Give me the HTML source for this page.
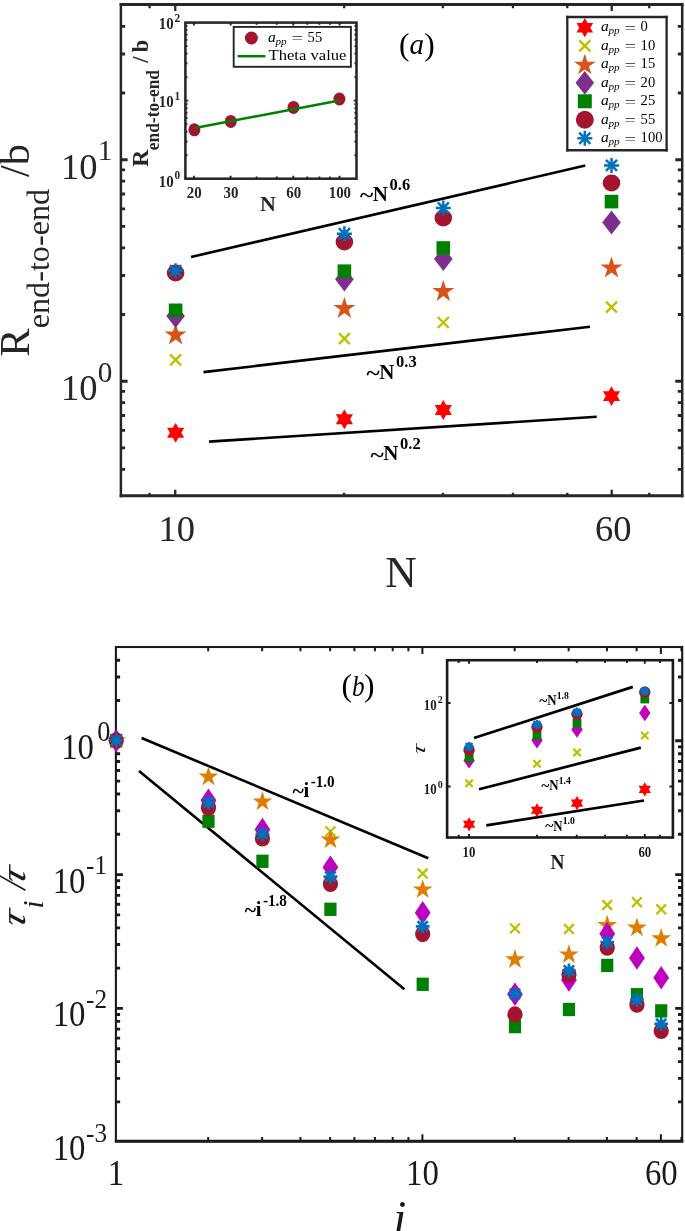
<!DOCTYPE html>
<html lang="en"><head><meta charset="utf-8"><title>Figure</title>
<style>html,body{margin:0;padding:0;background:#fff}svg{display:block}text{font-family:'Liberation Serif', serif;}</style></head><body>
<svg width="685" height="1231" viewBox="0 0 685 1231">
<rect width="685" height="1231" fill="#fff"/>
<g id="panel-a">
<path d="M149.59 495.7v-2.9M149.59 4.2v4.0M344.1 495.7v-2.9M344.1 4.2v4.0M442.87 495.7v-2.9M442.87 4.2v4.0M512.95 495.7v-2.9M512.95 4.2v4.0M567.31 495.7v-2.9M567.31 4.2v4.0M649.27 495.7v-2.9M649.27 4.2v4.0M175.26 495.7v-5.9M175.26 4.2v6.8M611.72 495.7v-5.9M611.72 4.2v6.8" stroke="#262626" stroke-width="2.3" fill="none"/>
<path d="M120.9 469.34h4.2M682 469.34h-4.2M120.9 447.88h4.2M682 447.88h-4.2M120.9 430.34h4.2M682 430.34h-4.2M120.9 415.51h4.2M682 415.51h-4.2M120.9 402.67h4.2M682 402.67h-4.2M120.9 391.34h4.2M682 391.34h-4.2M120.9 314.52h4.2M682 314.52h-4.2M120.9 275.52h4.2M682 275.52h-4.2M120.9 247.84h4.2M682 247.84h-4.2M120.9 226.38h4.2M682 226.38h-4.2M120.9 208.84h4.2M682 208.84h-4.2M120.9 194.01h4.2M682 194.01h-4.2M120.9 181.17h4.2M682 181.17h-4.2M120.9 169.84h4.2M682 169.84h-4.2M120.9 93.02h4.2M682 93.02h-4.2M120.9 54.02h4.2M682 54.02h-4.2M120.9 26.34h4.2M682 26.34h-4.2M120.9 381.2h6.7M682 381.2h-6.7M120.9 159.7h6.7M682 159.7h-6.7" stroke="#262626" stroke-width="2.9" fill="none"/>
<path d="M120.9 2.98V497.18M682.2 2.98V497.18" stroke="#262626" stroke-width="2.5" fill="none"/><path d="M119.65 4.45H683.45M119.65 495.7H683.45" stroke="#262626" stroke-width="2.95" fill="none"/>
<path d="M191 257L585.3 165.6M203.5 372.1L590 326.8M209 441.6L596.7 416.8" stroke="#000" stroke-width="2.6" fill="none"/>
<polygon points="175.6,422.9 178.46,427.85 184.17,427.85 181.32,432.8 184.17,437.75 178.46,437.75 175.6,442.7 172.74,437.75 167.03,437.75 169.88,432.8 167.03,427.85 172.74,427.85" fill="#ff0000"/>
<polygon points="344.4,409.4 347.26,414.35 352.97,414.35 350.12,419.3 352.97,424.25 347.26,424.25 344.4,429.2 341.54,424.25 335.83,424.25 338.68,419.3 335.83,414.35 341.54,414.35" fill="#ff0000"/>
<polygon points="443.3,400.1 446.16,405.05 451.87,405.05 449.02,410 451.87,414.95 446.16,414.95 443.3,419.9 440.44,414.95 434.73,414.95 437.58,410 434.73,405.05 440.44,405.05" fill="#ff0000"/>
<polygon points="611.5,386.2 614.36,391.15 620.07,391.15 617.22,396.1 620.07,401.05 614.36,401.05 611.5,406 608.64,401.05 602.93,401.05 605.78,396.1 602.93,391.15 608.64,391.15" fill="#ff0000"/>
<path d="M170.1 354.4L181.1 365.4M170.1 365.4L181.1 354.4" stroke="#bfbf00" stroke-width="2.4" fill="none"/>
<path d="M338.9 333.2L349.9 344.2M338.9 344.2L349.9 333.2" stroke="#bfbf00" stroke-width="2.4" fill="none"/>
<path d="M437.8 317L448.8 328M437.8 328L448.8 317" stroke="#bfbf00" stroke-width="2.4" fill="none"/>
<path d="M606 301.7L617 312.7M606 312.7L617 301.7" stroke="#bfbf00" stroke-width="2.4" fill="none"/>
<polygon points="175.6,323.4 178.2,331.42 186.63,331.42 179.81,336.37 182.42,344.38 175.6,339.43 168.78,344.38 171.39,336.37 164.57,331.42 173,331.42" fill="#d95319"/>
<polygon points="344.4,296.9 347,304.92 355.43,304.92 348.61,309.87 351.22,317.88 344.4,312.93 337.58,317.88 340.19,309.87 333.37,304.92 341.8,304.92" fill="#d95319"/>
<polygon points="443.3,279.9 445.9,287.92 454.33,287.92 447.51,292.87 450.12,300.88 443.3,295.93 436.48,300.88 439.09,292.87 432.27,287.92 440.7,287.92" fill="#d95319"/>
<polygon points="611.5,256.4 614.1,264.42 622.53,264.42 615.71,269.37 618.32,277.38 611.5,272.43 604.68,277.38 607.29,269.37 600.47,264.42 608.9,264.42" fill="#d95319"/>
<polygon points="175.6,303.9 184.9,316 175.6,328.1 166.3,316" fill="#7e2f8e"/>
<polygon points="344.4,267.2 353.7,279.3 344.4,291.4 335.1,279.3" fill="#7e2f8e"/>
<polygon points="443.3,246.9 452.6,259 443.3,271.1 434,259" fill="#7e2f8e"/>
<polygon points="611.5,210.4 620.8,222.5 611.5,234.6 602.2,222.5" fill="#7e2f8e"/>
<rect x="168.8" y="303.5" width="13.6" height="13.6" fill="#008000"/>
<rect x="337.6" y="264.4" width="13.6" height="13.6" fill="#008000"/>
<rect x="436.5" y="241.2" width="13.6" height="13.6" fill="#008000"/>
<rect x="604.7" y="194.8" width="13.6" height="13.6" fill="#008000"/>
<ellipse cx="175.6" cy="273" rx="8.8" ry="8.5" fill="#a2142f"/>
<ellipse cx="344.4" cy="242" rx="8.8" ry="8.5" fill="#a2142f"/>
<ellipse cx="443.3" cy="218" rx="8.8" ry="8.5" fill="#a2142f"/>
<ellipse cx="611.5" cy="183" rx="8.8" ry="8.5" fill="#a2142f"/>
<path d="M175.6 263.2V278.2M168.1 270.7H183.1M170.05 265.15L181.15 276.25M170.05 276.25L181.15 265.15" stroke="#0072bd" stroke-width="2.5" fill="none"/>
<path d="M344.4 226.2V241.2M336.9 233.7H351.9M338.85 228.15L349.95 239.25M338.85 239.25L349.95 228.15" stroke="#0072bd" stroke-width="2.5" fill="none"/>
<path d="M443.3 200.5V215.5M435.8 208H450.8M437.75 202.45L448.85 213.55M437.75 213.55L448.85 202.45" stroke="#0072bd" stroke-width="2.5" fill="none"/>
<path d="M611.5 157.9V172.9M604 165.4H619M605.95 159.85L617.05 170.95M605.95 170.95L617.05 159.85" stroke="#0072bd" stroke-width="2.5" fill="none"/>
<text x="97.4" y="178.8" font-size="36.5" text-anchor="end" fill="#262626" font-weight="normal">10</text><text x="97.8" y="160.4" font-size="29.2" fill="#262626" font-weight="normal">1</text>
<text x="97.4" y="400" font-size="36.5" text-anchor="end" fill="#262626" font-weight="normal">10</text><text x="97.8" y="381.6" font-size="29.2" fill="#262626" font-weight="normal">0</text>
<text x="176.8" y="541" font-size="36.5" text-anchor="middle" fill="#262626">10</text>
<text x="613.2" y="541" font-size="36.5" text-anchor="middle" fill="#262626">60</text>
<text x="400.9" y="587.4" font-size="43.5" text-anchor="middle" fill="#262626">N</text>
<g transform="translate(28.8,356.7) rotate(-90)" fill="#262626">
<text x="0" y="0" font-size="42.5">R</text>
<text x="28.4" y="20.2" font-size="32.2">end-to-end</text>
<text x="179.6" y="0" font-size="42.5">/b</text>
</g>
<text x="398.9" y="54.5" font-size="31.5" fill="#000">(</text>
<text x="409.6" y="53.9" font-size="29" font-style="italic" fill="#000">a</text>
<text x="424.2" y="54.5" font-size="31.5" fill="#000">)</text>
<text x="360.1" y="202.4" font-size="21" font-weight="bold" fill="#000" textLength="13.2" lengthAdjust="spacingAndGlyphs">~</text><text x="372.8" y="201.2" font-size="21" font-weight="bold" fill="#000">N</text><text x="389.56" y="189.7" font-size="16.5" font-weight="bold" fill="#000">0.6</text>
<text x="366.6" y="379.7" font-size="21" font-weight="bold" fill="#000" textLength="13.2" lengthAdjust="spacingAndGlyphs">~</text><text x="379.3" y="378.5" font-size="21" font-weight="bold" fill="#000">N</text><text x="396.06" y="367" font-size="16.5" font-weight="bold" fill="#000">0.3</text>
<text x="370.6" y="461.5" font-size="21" font-weight="bold" fill="#000" textLength="13.2" lengthAdjust="spacingAndGlyphs">~</text><text x="383.3" y="460.3" font-size="21" font-weight="bold" fill="#000">N</text><text x="400.06" y="448.8" font-size="16.5" font-weight="bold" fill="#000">0.2</text>
<rect x="567.3" y="17" width="99.3" height="133.3" fill="#fff"/><path d="M567.3 15.7V151.6M666.6 15.7V151.6" stroke="#262626" stroke-width="2.3" fill="none"/><path d="M566.15 17H667.75M566.15 150.3H667.75" stroke="#262626" stroke-width="2.6" fill="none"/>
<polygon points="584.8,18.1 587.57,22.9 593.11,22.9 590.34,27.7 593.11,32.5 587.57,32.5 584.8,37.3 582.03,32.5 576.49,32.5 579.26,27.7 576.49,22.9 582.03,22.9" fill="#ff0000"/>
<path d="M579.3 40.37L590.3 51.37M579.3 51.37L590.3 40.37" stroke="#bfbf00" stroke-width="2.4" fill="none"/>
<polygon points="584.8,53.84 587.34,61.65 595.55,61.65 588.91,66.47 591.44,74.28 584.8,69.46 578.16,74.28 580.69,66.47 574.05,61.65 582.26,61.65" fill="#d95319"/>
<polygon points="584.8,70.91 594.1,82.81 584.8,94.71 575.5,82.81" fill="#7e2f8e"/>
<rect x="577.8" y="94.28" width="14" height="14" fill="#008000"/>
<circle cx="584.8" cy="119.75" r="9" fill="#a2142f"/>
<path d="M584.8 130.72V145.72M577.3 138.22H592.3M579.25 132.67L590.35 143.77M579.25 143.77L590.35 132.67" stroke="#0072bd" stroke-width="2.5" fill="none"/>
<text x="601" y="31.4" font-size="15.6" font-style="italic" fill="#000">a</text><text x="608.4" y="34.4" font-size="11.2" font-style="italic" fill="#000">pp</text><text transform="translate(624.4,32.7) scale(1.36,1)" font-size="15" fill="#222">=</text><text x="640.6" y="31.2" font-size="14.6" fill="#000">0</text>
<text x="601" y="49.87" font-size="15.6" font-style="italic" fill="#000">a</text><text x="608.4" y="52.87" font-size="11.2" font-style="italic" fill="#000">pp</text><text transform="translate(624.4,51.17) scale(1.36,1)" font-size="15" fill="#222">=</text><text x="640.6" y="49.67" font-size="14.6" fill="#000">10</text>
<text x="601" y="68.34" font-size="15.6" font-style="italic" fill="#000">a</text><text x="608.4" y="71.34" font-size="11.2" font-style="italic" fill="#000">pp</text><text transform="translate(624.4,69.64) scale(1.36,1)" font-size="15" fill="#222">=</text><text x="640.6" y="68.14" font-size="14.6" fill="#000">15</text>
<text x="601" y="86.81" font-size="15.6" font-style="italic" fill="#000">a</text><text x="608.4" y="89.81" font-size="11.2" font-style="italic" fill="#000">pp</text><text transform="translate(624.4,88.11) scale(1.36,1)" font-size="15" fill="#222">=</text><text x="640.6" y="86.61" font-size="14.6" fill="#000">20</text>
<text x="601" y="105.28" font-size="15.6" font-style="italic" fill="#000">a</text><text x="608.4" y="108.28" font-size="11.2" font-style="italic" fill="#000">pp</text><text transform="translate(624.4,106.58) scale(1.36,1)" font-size="15" fill="#222">=</text><text x="640.6" y="105.08" font-size="14.6" fill="#000">25</text>
<text x="601" y="123.75" font-size="15.6" font-style="italic" fill="#000">a</text><text x="608.4" y="126.75" font-size="11.2" font-style="italic" fill="#000">pp</text><text transform="translate(624.4,125.05) scale(1.36,1)" font-size="15" fill="#222">=</text><text x="640.6" y="123.55" font-size="14.6" fill="#000">55</text>
<text x="601" y="142.22" font-size="15.6" font-style="italic" fill="#000">a</text><text x="608.4" y="145.22" font-size="11.2" font-style="italic" fill="#000">pp</text><text transform="translate(624.4,143.52) scale(1.36,1)" font-size="15" fill="#222">=</text><text x="640.6" y="142.02" font-size="14.6" fill="#000">100</text>
<rect x="185.4" y="22.6" width="171.1" height="156.1" fill="#fff" stroke="#262626" stroke-width="2.55"/>
<path d="M193.9 178.7v-2.9M193.9 22.6v2.9M230.6 178.7v-2.9M230.6 22.6v2.9M256.63 178.7v-2.1M256.63 22.6v2.1M276.83 178.7v-2.1M276.83 22.6v2.1M293.33 178.7v-2.9M293.33 22.6v2.9M307.28 178.7v-2.1M307.28 22.6v2.1M319.37 178.7v-2.1M319.37 22.6v2.1M330.03 178.7v-2.1M330.03 22.6v2.1M339.57 178.7v-2.9M339.57 22.6v2.9M185.4 155.2h2.1M356.5 155.2h-2.1M185.4 141.46h2.1M356.5 141.46h-2.1M185.4 131.71h2.1M356.5 131.71h-2.1M185.4 124.15h2.1M356.5 124.15h-2.1M185.4 117.97h2.1M356.5 117.97h-2.1M185.4 112.74h2.1M356.5 112.74h-2.1M185.4 108.21h2.1M356.5 108.21h-2.1M185.4 104.22h2.1M356.5 104.22h-2.1M185.4 77.15h2.1M356.5 77.15h-2.1M185.4 63.41h2.1M356.5 63.41h-2.1M185.4 53.66h2.1M356.5 53.66h-2.1M185.4 46.1h2.1M356.5 46.1h-2.1M185.4 39.92h2.1M356.5 39.92h-2.1M185.4 34.69h2.1M356.5 34.69h-2.1M185.4 30.16h2.1M356.5 30.16h-2.1M185.4 26.17h2.1M356.5 26.17h-2.1M185.4 100.65h2.9M356.5 100.65h-2.9" stroke="#262626" stroke-width="1.9" fill="none"/>
<ellipse cx="194.4" cy="129.8" rx="6" ry="6.5" fill="#a2142f"/>
<ellipse cx="230.8" cy="121.4" rx="6" ry="6.5" fill="#a2142f"/>
<ellipse cx="293.5" cy="107.4" rx="6" ry="6.5" fill="#a2142f"/>
<ellipse cx="339.4" cy="99" rx="6" ry="6.5" fill="#a2142f"/>
<path d="M195 128L339.4 100.4" stroke="#008000" stroke-width="2.5" fill="none"/>
<rect x="233.7" y="26.9" width="117.2" height="39.9" fill="#fff" stroke="#262626" stroke-width="1.9"/>
<circle cx="251.4" cy="38" r="6.5" fill="#a2142f"/>
<path d="M237.6 56.2H265.4" stroke="#008000" stroke-width="2.5"/>
<text x="268" y="41.8" font-size="15.6" font-style="italic" fill="#000">a</text><text x="275.4" y="44.8" font-size="11.2" font-style="italic" fill="#000">pp</text><text transform="translate(291.4,43.1) scale(1.36,1)" font-size="15" fill="#222">=</text><text x="307.6" y="41.6" font-size="14.6" fill="#000">55</text>
<text x="268.6" y="60.3" font-size="14.6" fill="#000" textLength="77.8" lengthAdjust="spacingAndGlyphs">Theta value</text>
<g transform="translate(173.7,0) scale(0.92,1) translate(-173.7,0)"><text x="173.7" y="29.2" font-size="16.2" text-anchor="end" fill="#262626" font-weight="bold">10</text><text x="174.6" y="21.9" font-size="12.4" fill="#262626" font-weight="bold">2</text></g>
<g transform="translate(173.7,0) scale(0.92,1) translate(-173.7,0)"><text x="173.7" y="107.5" font-size="16.2" text-anchor="end" fill="#262626" font-weight="bold">10</text><text x="174.6" y="100.2" font-size="12.4" fill="#262626" font-weight="bold">1</text></g>
<g transform="translate(173.7,0) scale(0.92,1) translate(-173.7,0)"><text x="173.7" y="186.6" font-size="16.2" text-anchor="end" fill="#262626" font-weight="bold">10</text><text x="174.6" y="179.3" font-size="12.4" fill="#262626" font-weight="bold">0</text></g>
<text transform="translate(194.2,198.3) scale(0.92,1)" font-size="16.2" font-weight="bold" text-anchor="middle" fill="#262626">20</text>
<text transform="translate(230.9,198.3) scale(0.92,1)" font-size="16.2" font-weight="bold" text-anchor="middle" fill="#262626">30</text>
<text transform="translate(293.63,198.3) scale(0.92,1)" font-size="16.2" font-weight="bold" text-anchor="middle" fill="#262626">60</text>
<text transform="translate(339.87,198.3) scale(0.92,1)" font-size="16.2" font-weight="bold" text-anchor="middle" fill="#262626">100</text>
<text x="268" y="210.7" font-size="22" font-weight="bold" text-anchor="middle" fill="#262626">N</text>
<g transform="translate(148,166.8) rotate(-90)" fill="#262626" font-weight="bold">
<text x="0" y="0" font-size="23.5">R</text>
<text transform="translate(16.6,10.9) scale(1,1.12)" font-size="17.4">end-to-end</text>
<text x="104" y="0" font-size="22.5">/</text>
<text x="114.6" y="0" font-size="22.5">b</text>
</g>
</g>
<g id="panel-b">
<path d="M208.17 1141.2v-4.2M208.17 647v4.2M262.14 1141.2v-4.2M262.14 647v4.2M300.43 1141.2v-4.2M300.43 647v4.2M330.13 1141.2v-4.2M330.13 647v4.2M354.4 1141.2v-4.2M354.4 647v4.2M374.92 1141.2v-4.2M374.92 647v4.2M392.7 1141.2v-4.2M392.7 647v4.2M408.38 1141.2v-4.2M408.38 647v4.2M514.67 1141.2v-4.2M514.67 647v4.2M568.64 1141.2v-4.2M568.64 647v4.2M606.93 1141.2v-4.2M606.93 647v4.2M636.63 1141.2v-4.2M636.63 647v4.2M681.42 1141.2v-4.2M681.42 647v4.2M422.4 1141.2v-7M422.4 647v7M660.9 1141.2v-7M660.9 647v7" stroke="#1a1a1a" stroke-width="2" fill="none"/>
<path d="M115.9 1101.92h4.2M682.2 1101.92h-4.2M115.9 1078.36h4.2M682.2 1078.36h-4.2M115.9 1061.64h4.2M682.2 1061.64h-4.2M115.9 1048.68h4.2M682.2 1048.68h-4.2M115.9 1038.08h4.2M682.2 1038.08h-4.2M115.9 1029.13h4.2M682.2 1029.13h-4.2M115.9 1021.37h4.2M682.2 1021.37h-4.2M115.9 1014.52h4.2M682.2 1014.52h-4.2M115.9 968.12h4.2M682.2 968.12h-4.2M115.9 944.56h4.2M682.2 944.56h-4.2M115.9 927.84h4.2M682.2 927.84h-4.2M115.9 914.88h4.2M682.2 914.88h-4.2M115.9 904.28h4.2M682.2 904.28h-4.2M115.9 895.33h4.2M682.2 895.33h-4.2M115.9 887.57h4.2M682.2 887.57h-4.2M115.9 880.72h4.2M682.2 880.72h-4.2M115.9 834.32h4.2M682.2 834.32h-4.2M115.9 810.76h4.2M682.2 810.76h-4.2M115.9 794.04h4.2M682.2 794.04h-4.2M115.9 781.08h4.2M682.2 781.08h-4.2M115.9 770.48h4.2M682.2 770.48h-4.2M115.9 761.53h4.2M682.2 761.53h-4.2M115.9 753.77h4.2M682.2 753.77h-4.2M115.9 746.92h4.2M682.2 746.92h-4.2M115.9 700.52h4.2M682.2 700.52h-4.2M115.9 676.96h4.2M682.2 676.96h-4.2M115.9 660.24h4.2M682.2 660.24h-4.2M115.9 1008.4h7M682.2 1008.4h-7M115.9 874.6h7M682.2 874.6h-7M115.9 740.8h7M682.2 740.8h-7" stroke="#1a1a1a" stroke-width="2.9" fill="none"/>
<rect x="115.9" y="647" width="566.3" height="494.2" fill="none" stroke="#1a1a1a" stroke-width="2.1"/>
<path d="M114.85 1141.3H683.25" stroke="#1a1a1a" stroke-width="3.1" fill="none"/>
<path d="M141.6 738L428.3 858.2M139 771L404.4 989.3" stroke="#000" stroke-width="2.6" fill="none"/>
<path d="M111.3 735.6L121.1 745.4M111.3 745.4L121.1 735.6" stroke="#bfbf00" stroke-width="2.3" fill="none"/>
<path d="M325.53 826.5L335.33 836.3M325.53 836.3L335.33 826.5" stroke="#bfbf00" stroke-width="2.3" fill="none"/>
<path d="M417.8 868.6L427.6 878.4M417.8 878.4L427.6 868.6" stroke="#bfbf00" stroke-width="2.3" fill="none"/>
<path d="M510.07 923.5L519.87 933.3M510.07 933.3L519.87 923.5" stroke="#bfbf00" stroke-width="2.3" fill="none"/>
<path d="M564.04 924.1L573.84 933.9M564.04 933.9L573.84 924.1" stroke="#bfbf00" stroke-width="2.3" fill="none"/>
<path d="M602.33 900.1L612.13 909.9M602.33 909.9L612.13 900.1" stroke="#bfbf00" stroke-width="2.3" fill="none"/>
<path d="M632.03 897.3L641.83 907.1M632.03 907.1L641.83 897.3" stroke="#bfbf00" stroke-width="2.3" fill="none"/>
<path d="M656.3 904.4L666.1 914.2M656.3 914.2L666.1 904.4" stroke="#bfbf00" stroke-width="2.3" fill="none"/>
<polygon points="116.2,730.1 118.54,737.29 126.09,737.29 119.98,741.73 122.31,748.91 116.2,744.47 110.09,748.91 112.42,741.73 106.31,737.29 113.86,737.29" fill="#de7d00"/>
<polygon points="208.47,766.4 210.8,773.59 218.36,773.59 212.24,778.03 214.58,785.21 208.47,780.77 202.35,785.21 204.69,778.03 198.57,773.59 206.13,773.59" fill="#de7d00"/>
<polygon points="262.44,791.3 264.77,798.49 272.33,798.49 266.22,802.93 268.55,810.11 262.44,805.67 256.32,810.11 258.66,802.93 252.55,798.49 260.1,798.49" fill="#de7d00"/>
<polygon points="330.43,829.4 332.77,836.59 340.33,836.59 334.21,841.03 336.55,848.21 330.43,843.77 324.32,848.21 326.66,841.03 320.54,836.59 328.1,836.59" fill="#de7d00"/>
<polygon points="422.7,879.2 425.04,886.39 432.59,886.39 426.48,890.83 428.81,898.01 422.7,893.57 416.59,898.01 418.92,890.83 412.81,886.39 420.36,886.39" fill="#de7d00"/>
<polygon points="514.97,949.1 517.3,956.29 524.86,956.29 518.74,960.73 521.08,967.91 514.97,963.47 508.85,967.91 511.19,960.73 505.07,956.29 512.63,956.29" fill="#de7d00"/>
<polygon points="568.94,944.2 571.27,951.39 578.83,951.39 572.72,955.83 575.05,963.01 568.94,958.57 562.82,963.01 565.16,955.83 559.05,951.39 566.6,951.39" fill="#de7d00"/>
<polygon points="607.23,914.8 609.57,921.99 617.12,921.99 611.01,926.43 613.34,933.61 607.23,929.17 601.12,933.61 603.45,926.43 597.34,921.99 604.9,921.99" fill="#de7d00"/>
<polygon points="636.93,917.4 639.27,924.59 646.83,924.59 640.71,929.03 643.05,936.21 636.93,931.77 630.82,936.21 633.16,929.03 627.04,924.59 634.6,924.59" fill="#de7d00"/>
<polygon points="661.2,928 663.54,935.19 671.09,935.19 664.98,939.63 667.32,946.81 661.2,942.37 655.09,946.81 657.43,939.63 651.31,935.19 658.87,935.19" fill="#de7d00"/>
<polygon points="116.2,729 124.1,740.8 116.2,752.6 108.3,740.8" fill="#bf00bf"/>
<polygon points="208.47,788.5 216.37,800.3 208.47,812.1 200.57,800.3" fill="#bf00bf"/>
<polygon points="262.44,817.8 270.34,829.6 262.44,841.4 254.54,829.6" fill="#bf00bf"/>
<polygon points="330.43,855.5 338.33,867.3 330.43,879.1 322.53,867.3" fill="#bf00bf"/>
<polygon points="422.7,901 430.6,912.8 422.7,924.6 414.8,912.8" fill="#bf00bf"/>
<polygon points="514.97,982.4 522.87,994.2 514.97,1006 507.07,994.2" fill="#bf00bf"/>
<polygon points="568.94,968.2 576.84,980 568.94,991.8 561.04,980" fill="#bf00bf"/>
<polygon points="607.23,922 615.13,933.8 607.23,945.6 599.33,933.8" fill="#bf00bf"/>
<polygon points="636.93,946.2 644.83,958 636.93,969.8 629.03,958" fill="#bf00bf"/>
<polygon points="661.2,965.9 669.1,977.7 661.2,989.5 653.3,977.7" fill="#bf00bf"/>
<rect x="110.1" y="733.85" width="12.2" height="13.3" fill="#008000"/>
<rect x="202.37" y="814.55" width="12.2" height="13.3" fill="#008000"/>
<rect x="256.34" y="854.65" width="12.2" height="13.3" fill="#008000"/>
<rect x="324.33" y="902.65" width="12.2" height="13.3" fill="#008000"/>
<rect x="416.6" y="977.65" width="12.2" height="13.3" fill="#008000"/>
<rect x="508.87" y="1019.95" width="12.2" height="13.3" fill="#008000"/>
<rect x="562.84" y="1002.85" width="12.2" height="13.3" fill="#008000"/>
<rect x="601.13" y="958.75" width="12.2" height="13.3" fill="#008000"/>
<rect x="630.83" y="988.05" width="12.2" height="13.3" fill="#008000"/>
<rect x="655.1" y="1004.25" width="12.2" height="13.3" fill="#008000"/>
<ellipse cx="116.2" cy="740.5" rx="7.6" ry="8.1" fill="#a2142f"/>
<ellipse cx="208.47" cy="807.8" rx="7.6" ry="8.1" fill="#a2142f"/>
<ellipse cx="262.44" cy="838.5" rx="7.6" ry="8.1" fill="#a2142f"/>
<ellipse cx="330.43" cy="884" rx="7.6" ry="8.1" fill="#a2142f"/>
<ellipse cx="422.7" cy="934.1" rx="7.6" ry="8.1" fill="#a2142f"/>
<ellipse cx="514.97" cy="1014.4" rx="7.6" ry="8.1" fill="#a2142f"/>
<ellipse cx="568.94" cy="974.5" rx="7.6" ry="8.1" fill="#a2142f"/>
<ellipse cx="607.23" cy="947.7" rx="7.6" ry="8.1" fill="#a2142f"/>
<ellipse cx="636.93" cy="1004.7" rx="7.6" ry="8.1" fill="#a2142f"/>
<ellipse cx="661.2" cy="1030.9" rx="7.6" ry="8.1" fill="#a2142f"/>
<path d="M116.2 733.6V747.4M109.3 740.5H123.1M111.09 735.39L121.31 745.61M111.09 745.61L121.31 735.39" stroke="#0072bd" stroke-width="2.7" fill="none"/>
<path d="M208.47 795.6V809.4M201.57 802.5H215.37M203.36 797.39L213.57 807.61M203.36 807.61L213.57 797.39" stroke="#0072bd" stroke-width="2.7" fill="none"/>
<path d="M262.44 827.1V840.9M255.54 834H269.34M257.33 828.89L267.54 839.11M257.33 839.11L267.54 828.89" stroke="#0072bd" stroke-width="2.7" fill="none"/>
<path d="M330.43 869.7V883.5M323.53 876.6H337.33M325.33 871.49L335.54 881.71M325.33 881.71L335.54 871.49" stroke="#0072bd" stroke-width="2.7" fill="none"/>
<path d="M422.7 919.4V933.2M415.8 926.3H429.6M417.59 921.19L427.81 931.41M417.59 931.41L427.81 921.19" stroke="#0072bd" stroke-width="2.7" fill="none"/>
<path d="M514.97 987V1000.8M508.07 993.9H521.87M509.86 988.79L520.07 999.01M509.86 999.01L520.07 988.79" stroke="#0072bd" stroke-width="2.7" fill="none"/>
<path d="M568.94 963.6V977.4M562.04 970.5H575.84M563.83 965.39L574.04 975.61M563.83 975.61L574.04 965.39" stroke="#0072bd" stroke-width="2.7" fill="none"/>
<path d="M607.23 935.1V948.9M600.33 942H614.13M602.13 936.89L612.34 947.11M602.13 947.11L612.34 936.89" stroke="#0072bd" stroke-width="2.7" fill="none"/>
<path d="M636.93 992.7V1006.5M630.03 999.6H643.83M631.83 994.49L642.04 1004.71M631.83 1004.71L642.04 994.49" stroke="#0072bd" stroke-width="2.7" fill="none"/>
<path d="M661.2 1016.9V1030.7M654.3 1023.8H668.1M656.1 1018.69L666.31 1028.91M656.1 1028.91L666.31 1018.69" stroke="#0072bd" stroke-width="2.7" fill="none"/>
<g transform="translate(94,0) scale(0.9,1) translate(-94,0)"><text x="94" y="759.2" font-size="36.5" text-anchor="end" fill="#1a1a1a" font-weight="normal">10</text><text x="97.6" y="740.8" font-size="29.2" fill="#1a1a1a" font-weight="normal">0</text></g>
<g transform="translate(85.5,0) scale(0.9,1) translate(-85.5,0)"><text x="85.5" y="892.8" font-size="36.5" text-anchor="end" fill="#1a1a1a" font-weight="normal">10</text><text x="86.1" y="874.4" font-size="28" fill="#1a1a1a" font-weight="normal">-1</text></g>
<g transform="translate(85.5,0) scale(0.9,1) translate(-85.5,0)"><text x="85.5" y="1026.5" font-size="36.5" text-anchor="end" fill="#1a1a1a" font-weight="normal">10</text><text x="86.1" y="1008.1" font-size="28" fill="#1a1a1a" font-weight="normal">-2</text></g>
<g transform="translate(85.5,0) scale(0.9,1) translate(-85.5,0)"><text x="85.5" y="1160.5" font-size="36.5" text-anchor="end" fill="#1a1a1a" font-weight="normal">10</text><text x="86.1" y="1142.1" font-size="28" fill="#1a1a1a" font-weight="normal">-3</text></g>
<text transform="translate(116,1185) scale(0.9,1)" font-size="36.5" text-anchor="middle" fill="#1a1a1a">1</text>
<text transform="translate(422.5,1185) scale(0.9,1)" font-size="36.5" text-anchor="middle" fill="#1a1a1a">10</text>
<text transform="translate(661.3,1185) scale(0.9,1)" font-size="36.5" text-anchor="middle" fill="#1a1a1a">60</text>
<text x="399.8" y="1233" font-size="46" font-style="italic" text-anchor="middle" fill="#1a1a1a">i</text>
<g transform="translate(24.8,924.6) rotate(-90)" fill="#1a1a1a">
<text transform="translate(-4.9,0) skewX(-17) scale(1.3,1)" font-size="34.7" font-style="italic" font-family="DejaVu Serif, serif">τ</text>
<text x="16.2" y="18" font-size="29" font-style="italic">i</text>
<text transform="translate(33.4,0) skewX(-12.5)" font-size="41">/</text>
<text transform="translate(38.5,0) skewX(-17) scale(1.3,1)" font-size="34.7" font-style="italic" font-family="DejaVu Serif, serif">τ</text>
</g>
<text x="341.6" y="696.4" font-size="31.5" fill="#000">(</text>
<text x="352" y="696.2" font-size="29" font-style="italic" fill="#000" textLength="12.6" lengthAdjust="spacingAndGlyphs">b</text>
<text x="364" y="696.4" font-size="31.5" fill="#000">)</text>
<text x="292.6" y="797.67" font-size="20.5" font-weight="bold" fill="#000" textLength="11.32" lengthAdjust="spacingAndGlyphs">~</text><text x="303.45" y="796.5" font-size="20.5" font-weight="bold" fill="#000">i</text><text x="310.71" y="786.54" font-size="16.5" font-weight="bold" fill="#000" textLength="24" lengthAdjust="spacingAndGlyphs">-1.0</text>
<text x="244.8" y="917.17" font-size="20.5" font-weight="bold" fill="#000" textLength="11.32" lengthAdjust="spacingAndGlyphs">~</text><text x="255.65" y="916" font-size="20.5" font-weight="bold" fill="#000">i</text><text x="262.91" y="906.04" font-size="16.5" font-weight="bold" fill="#000" textLength="24" lengthAdjust="spacingAndGlyphs">-1.8</text>
<rect x="447.1" y="660.2" width="225.8" height="177.3" fill="#fff" stroke="#1a1a1a" stroke-width="2.6"/>
<path d="M458.66 837.5v-2.7M458.66 660.2v2.7M537 837.5v-2.7M537 660.2v2.7M576.78 837.5v-2.7M576.78 660.2v2.7M605.01 837.5v-2.7M605.01 660.2v2.7M626.9 837.5v-2.7M626.9 660.2v2.7M659.91 837.5v-2.7M659.91 660.2v2.7M469 837.5v-3.5M469 660.2v3.5M644.78 837.5v-3.5M644.78 660.2v3.5M447.1 786.5h3.5M672.9 786.5h-3.5M447.1 703h3.5M672.9 703h-3.5" stroke="#1a1a1a" stroke-width="1.9" fill="none"/>
<path d="M474 738L632.8 686.9M479 789.3L640.8 747.6M486.3 825.4L644 800.5" stroke="#000" stroke-width="2.7" fill="none"/>
<polygon points="469.1,817.2 471.15,820.75 475.25,820.75 473.2,824.3 475.25,827.85 471.15,827.85 469.1,831.4 467.05,827.85 462.95,827.85 465,824.3 462.95,820.75 467.05,820.75" fill="#ff0000"/>
<polygon points="537,803.2 539.05,806.75 543.15,806.75 541.1,810.3 543.15,813.85 539.05,813.85 537,817.4 534.95,813.85 530.85,813.85 532.9,810.3 530.85,806.75 534.95,806.75" fill="#ff0000"/>
<polygon points="577,796 579.05,799.55 583.15,799.55 581.1,803.1 583.15,806.65 579.05,806.65 577,810.2 574.95,806.65 570.85,806.65 572.9,803.1 570.85,799.55 574.95,799.55" fill="#ff0000"/>
<polygon points="644.8,782.3 646.85,785.85 650.95,785.85 648.9,789.4 650.95,792.95 646.85,792.95 644.8,796.5 642.75,792.95 638.65,792.95 640.7,789.4 638.65,785.85 642.75,785.85" fill="#ff0000"/>
<path d="M465.4 779.6L472.8 787M465.4 787L472.8 779.6" stroke="#bfbf00" stroke-width="2.2" fill="none"/>
<path d="M533.3 760L540.7 767.4M533.3 767.4L540.7 760" stroke="#bfbf00" stroke-width="2.2" fill="none"/>
<path d="M573.3 748.7L580.7 756.1M573.3 756.1L580.7 748.7" stroke="#bfbf00" stroke-width="2.2" fill="none"/>
<path d="M641.1 731.8L648.5 739.2M641.1 739.2L648.5 731.8" stroke="#bfbf00" stroke-width="2.2" fill="none"/>
<polygon points="469.1,752.2 474.8,760.4 469.1,768.6 463.4,760.4" fill="#bf00bf"/>
<polygon points="537,732.1 542.7,740.3 537,748.5 531.3,740.3" fill="#bf00bf"/>
<polygon points="577,721.3 582.7,729.5 577,737.7 571.3,729.5" fill="#bf00bf"/>
<polygon points="644.8,704.8 650.5,713 644.8,721.2 639.1,713" fill="#bf00bf"/>
<rect x="464.7" y="753.3" width="8.8" height="8.8" fill="#008000"/>
<rect x="532.6" y="730.9" width="8.8" height="8.8" fill="#008000"/>
<rect x="572.6" y="718.7" width="8.8" height="8.8" fill="#008000"/>
<rect x="640.4" y="694.6" width="8.8" height="8.8" fill="#008000"/>
<circle cx="469.1" cy="750.2" r="5.7" fill="#a2142f"/>
<circle cx="537" cy="727.1" r="5.7" fill="#a2142f"/>
<circle cx="577" cy="714.2" r="5.7" fill="#a2142f"/>
<circle cx="644.8" cy="692.2" r="5.7" fill="#a2142f"/>
<path d="M469.1 742V751.2M464.5 746.6H473.7M465.7 743.2L472.5 750M465.7 750L472.5 743.2" stroke="#0072bd" stroke-width="2.5" fill="none"/>
<path d="M537 719.9V729.1M532.4 724.5H541.6M533.6 721.1L540.4 727.9M533.6 727.9L540.4 721.1" stroke="#0072bd" stroke-width="2.5" fill="none"/>
<path d="M577 707.6V716.8M572.4 712.2H581.6M573.6 708.8L580.4 715.6M573.6 715.6L580.4 708.8" stroke="#0072bd" stroke-width="2.5" fill="none"/>
<path d="M644.8 686.4V695.6M640.2 691H649.4M641.4 687.6L648.2 694.4M641.4 694.4L648.2 687.6" stroke="#0072bd" stroke-width="2.5" fill="none"/>
<g transform="translate(539.6,0) scale(0.86,1) translate(-539.6,0)"><text x="539.2" y="706.06" font-size="15" font-weight="bold" fill="#000" textLength="9.43" lengthAdjust="spacingAndGlyphs">~</text><text x="548.39" y="705.2" font-size="15" font-weight="bold" fill="#000">N</text><text x="559.43" y="698.63" font-size="11.3" font-weight="bold" fill="#000">1.8</text></g>
<g transform="translate(541.6,0) scale(0.86,1) translate(-541.6,0)"><text x="541.2" y="791.26" font-size="15" font-weight="bold" fill="#000" textLength="9.43" lengthAdjust="spacingAndGlyphs">~</text><text x="550.39" y="790.4" font-size="15" font-weight="bold" fill="#000">N</text><text x="561.43" y="783.83" font-size="11.3" font-weight="bold" fill="#000">1.4</text></g>
<g transform="translate(545.6,0) scale(0.86,1) translate(-545.6,0)"><text x="545.2" y="831.46" font-size="15" font-weight="bold" fill="#000" textLength="9.43" lengthAdjust="spacingAndGlyphs">~</text><text x="554.39" y="830.6" font-size="15" font-weight="bold" fill="#000">N</text><text x="565.43" y="824.03" font-size="11.3" font-weight="bold" fill="#000">1.0</text></g>
<g transform="translate(436.6,0) scale(0.88,1) translate(-436.6,0)"><text x="436.6" y="709.8" font-size="14.6" text-anchor="end" fill="#1a1a1a" font-weight="bold">10</text><text x="437.8" y="703.4" font-size="11.4" fill="#1a1a1a" font-weight="bold">2</text></g>
<g transform="translate(436.6,0) scale(0.88,1) translate(-436.6,0)"><text x="436.6" y="794" font-size="14.6" text-anchor="end" fill="#1a1a1a" font-weight="bold">10</text><text x="437.8" y="787.6" font-size="11.4" fill="#1a1a1a" font-weight="bold">0</text></g>
<text transform="translate(469,857) scale(0.88,1)" font-size="14.6" font-weight="bold" text-anchor="middle" fill="#1a1a1a">10</text>
<text transform="translate(644.8,857) scale(0.88,1)" font-size="14.6" font-weight="bold" text-anchor="middle" fill="#1a1a1a">60</text>
<text transform="translate(557.6,868.8) scale(0.88,1)" font-size="22" font-weight="bold" text-anchor="middle" fill="#1a1a1a">N</text>
<text transform="translate(425.3,755.2) rotate(-90) skewX(-13) scale(1.36,1)" font-size="19.5" font-style="italic" fill="#1a1a1a">τ</text>
</g>
</svg></body></html>
